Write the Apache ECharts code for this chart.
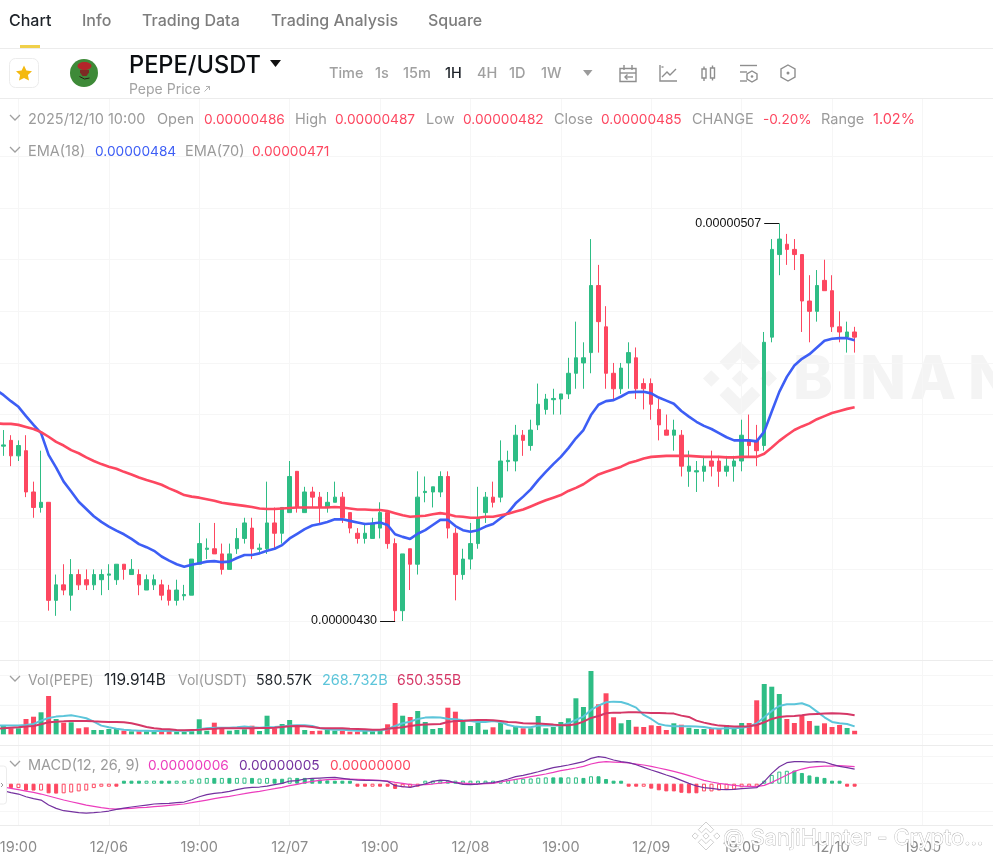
<!DOCTYPE html>
<html>
<head>
<meta charset="utf-8">
<title>PEPE/USDT</title>
<style>html,body{margin:0;padding:0;background:#fff}#chart{width:993px;height:862px}</style>
<script src="https://cdn.jsdelivr.net/npm/echarts@6/dist/echarts.min.js"></script>
</head>
<body>
<div id="chart"></div>
<script>
// Prices below are in units of 0.00000001 USDT; volumes are in billions of PEPE.
const opens = [464,465,462,463,455,452,453,434,437,435,439,438,437,438,439,438,441,439,439,436,437,437,436,434,435,435,441,444,444,443,440,444,446,448,444,444,449,447,451,459,451,455,454,452,453,454,451,447,446,446,448,451,445,432,444,441,455,455,455,458,447,439,442,445,451,454,454,461,461,466,464,468,471,473,473,474,478,480,482,495,487,478,475,480,481,476,476,471,467,466,466,459,459,459,461,461,459,460,461,465,465,464,485,501,503,502,501,492,490,496,494,487,485,486];
const highs = [467,466,465,466,457,463,453,439,441,442,440,440,440,440,441,441,441,442,440,439,439,438,437,438,437,442,449,446,449,445,445,448,450,450,445,457,452,452,461,459,456,456,455,455,457,455,451,448,449,450,453,451,446,443,444,459,458,456,459,459,448,444,449,456,455,457,465,463,468,467,469,476,474,475,474,481,488,484,504,499,491,480,480,484,483,477,477,473,470,469,467,463,461,462,463,462,462,462,469,470,468,486,504,507,505,504,501,497,498,500,497,490,488,487];
const lows = [462,460,461,454,450,451,432,431,435,432,436,436,436,435,436,437,438,439,435,436,436,434,433,433,434,435,441,442,443,439,440,443,445,442,443,443,444,445,451,451,451,452,449,451,453,449,447,445,445,446,446,444,430,430,436,439,453,452,454,446,434,438,440,444,449,452,453,459,459,462,463,467,470,470,470,473,475,475,478,482,475,473,474,475,473,471,469,465,466,463,458,456,455,457,458,456,458,457,459,462,460,463,484,497,499,498,486,484,488,494,486,484,482,482];
const closes = [464,462,464,455,452,453,434,437,436,439,437,437,439,439,439,441,440,440,437,438,438,435,434,436,435,442,445,444,443,440,443,446,449,444,444,449,447,452,458,452,455,454,452,453,454,450,448,446,447,449,451,445,432,443,441,454,455,456,458,448,439,442,445,450,454,453,461,461,466,465,467,472,473,473,474,478,481,481,495,488,478,475,479,482,475,475,472,468,466,467,460,460,459,460,460,459,460,461,466,464,463,484,502,504,502,501,492,490,495,494,487,486,486,485];

// The averages start one bar earlier than the candles, just past the left edge.
const ema18 = [474.8,473.8,472.6,471.5,469.7,468.0,466.4,462.2,459.7,457.0,455.1,453.1,451.7,450.3,449.2,448.3,447.5,446.8,445.9,444.9,444.3,443.6,442.5,441.7,441.0,440.5,440.9,441.2,441.5,441.6,441.4,441.5,442.2,442.8,442.8,443.1,443.6,444.0,444.7,446.0,446.9,447.8,448.5,448.8,449.2,449.7,449.7,449.4,449.1,448.8,448.9,449.1,448.6,446.8,446.3,445.9,446.9,447.6,448.6,449.6,449.6,448.4,447.6,447.3,447.6,448.3,448.8,449.9,451.0,452.8,454.1,455.5,457.3,458.9,460.4,461.8,463.5,465.4,467.0,469.9,471.9,472.6,472.8,473.5,474.3,474.4,474.4,474.1,473.3,472.7,472.1,470.7,469.6,468.6,467.8,467.2,466.4,465.6,465.0,465.0,465.0,464.8,466.7,470.6,474.4,477.3,479.5,480.8,481.7,483.0,484.3,484.7,484.8,484.8,484.4];
const ema70 = [468.3,468.2,468.2,468.0,467.6,467.2,466.6,465.7,464.7,464.0,463.1,462.5,461.7,461.0,460.4,459.9,459.5,458.9,458.4,457.8,457.3,456.9,456.4,455.7,455.1,454.4,454.1,453.9,453.6,453.3,452.9,452.7,452.5,452.3,452.1,451.8,451.7,451.7,451.8,451.9,452.0,452.0,452.0,452.0,452.0,452.1,452.0,451.8,451.6,451.6,451.5,451.5,451.3,450.9,450.5,450.2,450.3,450.4,450.7,450.9,450.7,450.3,450.2,450.0,450.0,450.2,450.2,450.5,450.8,451.2,451.6,452.2,452.8,453.4,453.9,454.4,455.2,455.8,456.5,457.5,458.4,458.9,459.4,459.9,460.6,461.0,461.5,461.8,461.9,462.0,462.0,462.0,462.0,461.9,461.8,461.8,461.8,461.7,461.7,461.8,461.8,461.8,462.4,463.6,464.9,466.0,467.0,467.7,468.3,469.1,469.7,470.3,470.7,471.1,471.4];

const volumes = [293,205,205,522,600,750,1306,522,396,409,205,239,147,147,181,181,123,102,102,102,89,113,147,89,78,102,512,123,396,205,123,147,171,293,113,634,205,351,488,259,147,113,123,147,123,123,89,89,113,102,113,341,1067,634,590,795,419,181,215,907,771,488,283,396,157,239,396,157,249,205,205,624,205,249,419,546,1228,931,2158,1023,1398,580,375,488,259,249,307,283,147,375,327,225,181,181,215,181,317,181,385,385,1159,1715,1623,1374,522,385,624,453,293,375,249,317,215,119.914];
const volShort = [296,296,296,296,318,352,466,557,603,625,648,603,546,432,296,239,193,159,136,125,125,114,114,125,125,125,125,171,205,227,227,227,239,262,239,227,239,250,262,296,307,307,284,205,171,159,159,136,125,125,125,136,171,284,375,432,523,569,580,569,534,512,478,455,421,421,455,421,318,262,239,239,296,296,296,296,375,489,603,830,978,1092,1114,1103,1023,910,659,523,352,296,273,273,273,262,250,205,193,205,205,227,262,375,580,796,966,1023,1023,1057,966,773,580,421,375,352,268.732];
const volLong = [193,205,227,239,262,284,341,409,432,443,455,455,455,443,432,421,421,409,375,318,250,205,182,171,148,136,148,159,182,193,205,205,205,205,205,216,216,227,250,273,284,273,250,216,205,205,205,193,182,171,159,159,193,216,239,284,318,330,341,352,421,455,455,478,489,489,478,455,421,409,375,364,364,352,330,307,307,341,432,557,625,716,739,739,750,750,739,728,728,716,705,637,591,466,398,341,296,284,262,262,273,318,409,523,591,614,625,648,682,694,705,716,705,694,650.355];

const macdHist = [-1.5,-1.6,-1.6,-2.5,-2.5,-2.5,-3.5,-3.6,-3.5,-3.2,-2.8,-2.5,-1.6,-1.1,-0.7,-0.5,0.6,0.7,0.7,0.8,1.0,0.8,0.8,0.8,1.0,1.5,1.9,2.1,2.1,2.1,2.1,2.1,2.2,2.1,1.9,2.1,1.8,1.8,2.2,2.1,2.1,1.8,1.5,1.2,1.0,0.8,0.5,-0.5,-0.5,-0.6,-0.6,-0.7,-1.9,-1.3,-1.3,-0.7,0.5,0.6,0.6,0.6,0.6,0.6,0.5,0.5,0.7,0.6,1.0,1.3,1.7,1.8,1.9,2.2,2.3,2.3,2.3,2.3,2.3,2.1,2.7,2.7,1.7,0.7,0.4,-0.5,-0.6,-1.1,-1.8,-2.4,-2.8,-2.8,-3.3,-3.5,-3.5,-2.8,-2.8,-2.5,-2.1,-2.1,-1.3,-1.1,-1.1,1.1,3.2,4.4,4.7,4.8,3.9,3.0,2.5,2.1,1.1,0.5,-0.6,-0.4];
// Bars drawn as outlines rather than filled.
const macdHollow = [2,5,8,9,10,11,12,13,14,19,20,23,24,25,26,27,29,31,32,34,35,38,49,53,54,55,56,57,58,59,60,61,62,63,64,65,66,67,68,69,70,71,72,75,76,78,85,93,94,95,96,97,98,99,100,101,102,103,104];
const macdDif = [-2.55,-3.27,-3.76,-4.73,-5.45,-5.94,-7.76,-8.97,-9.82,-10.18,-10.55,-10.67,-10.55,-10.30,-9.94,-9.33,-8.85,-8.48,-8.12,-7.76,-7.39,-7.27,-7.15,-6.91,-6.67,-5.82,-4.73,-4.00,-3.52,-3.27,-2.79,-2.18,-1.58,-1.33,-1.21,-0.85,-0.36,0.12,0.97,1.09,1.70,1.94,2.06,2.18,2.30,1.94,1.58,1.33,1.21,1.21,1.09,0.85,-0.73,-1.09,-1.33,-0.73,-0.12,0.85,1.33,1.09,0.36,-0.24,-0.36,-0.12,0.24,0.36,0.97,1.70,2.55,3.03,3.64,4.36,5.09,5.82,6.30,6.79,7.39,8.00,9.21,9.82,9.45,8.61,8.00,7.64,6.91,5.94,4.97,4.12,3.15,2.30,1.21,0.12,-0.85,-1.45,-1.70,-2.06,-2.18,-2.06,-1.82,-1.58,-1.45,0.73,3.76,6.18,7.64,8.00,8.00,7.88,8.00,7.88,7.03,6.30,5.82,5.33];
const macdDea = [-1.21,-1.70,-2.18,-2.67,-3.15,-3.76,-4.48,-5.21,-5.94,-6.55,-7.15,-7.76,-8.24,-8.73,-9.09,-9.21,-9.09,-8.97,-8.73,-8.61,-8.36,-8.12,-7.88,-7.64,-7.39,-6.91,-6.42,-5.94,-5.45,-4.97,-4.61,-4.12,-3.64,-3.15,-2.79,-2.30,-1.82,-1.33,-0.73,-0.24,0.36,0.85,1.21,1.45,1.58,1.70,1.70,1.58,1.45,1.33,1.21,0.97,0.48,0.12,-0.36,-0.48,-0.36,-0.12,0.24,0.48,0.48,0.24,0,-0.12,0,0.12,0.61,1.09,1.58,2.06,2.55,3.03,3.52,4.12,4.73,5.21,5.70,6.30,7.15,7.76,8.00,7.88,7.76,7.52,7.15,6.79,6.30,5.70,5.09,4.48,3.76,2.91,2.06,1.21,0.61,0.12,-0.24,-0.61,-0.85,-0.97,-1.09,-0.61,0.48,1.82,3.15,4.48,5.33,5.94,6.18,6.42,6.42,6.55,6.42,6.18];

// Candle positions of the time axis labels.
const tickPositions = [2,14,26,38,50,62,74,86,98,110,122];
const tickLabels = ['19:00','12/06','19:00','12/07','19:00','12/08','19:00','12/09','19:00','12/10','19:00'];

const highMarkIndex = 103, lowMarkIndex = 52;
const tabs = [['Chart',9],['Info',82],['Trading Data',142],['Trading Analysis',271],['Square',428]];
const intervals = [['Time',329],['1s',375],['15m',403],['1H',445],['4H',477],['1D',509],['1W',541]];

const UP = '#2ebd85', DOWN = '#fd4760', BLUE = '#3d5ef5', GREY = '#9b9b9b', INK = '#1e2329';
const CYAN = '#5cc5da', CRIMSON = '#d53766', PURPLE = '#74319f', PINK = '#ec3dbd';
const FONT = 'Inter';
const LEGEND_SIZE = 14.5, PRICE_SIZE = 13.7;
const priceText = v => (v / 1e8).toFixed(8);

const legendRows = [
  [118, [['2025/12/10 10:00',28,GREY],['Open',157,GREY],[priceText(opens[113]),204,DOWN,PRICE_SIZE],['High',295,GREY],[priceText(highs[113]),335,DOWN,PRICE_SIZE],['Low',426,GREY],[priceText(lows[113]),463,DOWN,PRICE_SIZE],['Close',554,GREY],[priceText(closes[113]),601,DOWN,PRICE_SIZE],['CHANGE',692,GREY],['-0.20%',763,DOWN,13.6],['Range',821,GREY],['1.02%',873,DOWN]]],
  [150, [['EMA(18)',28,GREY],[priceText(484),95,BLUE,PRICE_SIZE],['EMA(70)',185,GREY],[priceText(471),252,DOWN,PRICE_SIZE]]],
  [679, [['Vol(PEPE)',28,GREY,14],['119.914B',104,INK,15.4],['Vol(USDT)',178,GREY,14],['580.57K',256,INK,14.2],['268.732B',322,CYAN],['650.355B',397,CRIMSON,14]]],
  [764, [['MACD(12, 26, 9)',28,GREY],[priceText(6),148,PINK,PRICE_SIZE],[priceText(5),239,PURPLE,PRICE_SIZE],[priceText(0),330,DOWN,PRICE_SIZE]]]
];

// One band per hour, with a spare band before the first candle and room on the right.
const BAND = 7.533, FIRST_X = 3.4, BANDS = 133;
const bandLeft = FIRST_X - 1.5 * BAND;
const categories = Array.from({length: BANDS}, (_, i) => {
  const t = tickPositions.indexOf(i - 1);
  return t >= 0 ? tickLabels[t] : '';
});

const candles = [['-','-','-','-']].concat(opens.map((o, i) => {
  // A flat open/close still gets a visible sliver of body.
  const pad = o === closes[i] ? 0.12 : 0;
  return [o - pad, closes[i] + pad, lows[i], highs[i]];
}));
const isUp = i => closes[i] >= opens[i];
const volumeBars = ['-'].concat(volumes.map((v, i) => ({value: v, itemStyle: {color: isUp(i) ? UP : DOWN}})));
const macdBars = ['-'].concat(macdHist.map((v, i) => {
  const c = v >= 0 ? UP : DOWN;
  return {value: v, itemStyle: macdHollow.includes(i)
    ? {color: '#fff', borderColor: c, borderWidth: 1}
    : {color: c, borderColor: c, borderWidth: 1}};
}));
const lead = arr => [arr[0]].concat(arr);

const gridBase = {left: bandLeft, width: BANDS * BAND, outerBoundsMode: 'none'};
const hiddenX = gridIndex => ({type: 'category', gridIndex, data: categories, show: false});
const thinLine = (name, data, color, width, xi, yi) => ({
  name, type: 'line', data, xAxisIndex: xi, yAxisIndex: yi, symbol: 'none', silent: true,
  lineStyle: {color, width}, z: 5
});

// ---- page furniture drawn around the plot ----
const g = [];
// Inter sits a little high when centred, so the optical middle is nudged down.
const text = (t, x, y, fill, size, weight) => g.push({
  type: 'text', z: 20,
  style: {text: t, x, y: y + 1.5, fill, fontSize: size, fontFamily: FONT, fontWeight: weight || 400, align: 'left', verticalAlign: 'middle'}
});
// Small outline language for the glyphs: M/L absolute, l/h/v relative, Z closes.
function subpaths(d) {
  const out = [];
  let cur = null, x = 0, y = 0;
  d.replace(/([MLlhvZ])([^MLlhvZ]*)/g, (_, cmd, args) => {
    const n = (args.match(/-?\d*\.?\d+/g) || []).map(Number);
    if (cmd === 'M') { x = n[0]; y = n[1]; cur = {points: [[x, y]], closed: false}; out.push(cur); }
    else if (cmd === 'L') { x = n[0]; y = n[1]; cur.points.push([x, y]); }
    else if (cmd === 'l') { x += n[0]; y += n[1]; cur.points.push([x, y]); }
    else if (cmd === 'h') { x += n[0]; cur.points.push([x, y]); }
    else if (cmd === 'v') { y += n[0]; cur.points.push([x, y]); }
    else if (cmd === 'Z') { cur.closed = true; }
    return '';
  });
  return out;
}
const stroke = (d, color, w, z) => subpaths(d).forEach(p => g.push({
  type: p.closed ? 'polygon' : 'polyline', z: z || 20, shape: {points: p.points},
  style: {fill: p.closed ? '#fff' : null, stroke: color, lineWidth: w || 1.4}
}));
const solid = (d, color, z) => subpaths(d).forEach(p => g.push({
  type: 'polygon', z: z || 20, shape: {points: p.points}, style: {fill: color}
}));
const hairline = y => g.push({type: 'rect', z: 19, shape: {x: 0, y, width: 993, height: 1}, style: {fill: '#ececec'}});

function diamondLogo(cx, cy, s, style, z) {
  const shapes = [
    [[0,-.225],[.225,0],[0,.225],[-.225,0]],
    [[-.775,-.225],[-.55,0],[-.775,.225],[-1,0]],
    [[.775,-.225],[1,0],[.775,.225],[.55,0]],
    [[0,-1],[.55,-.45],[.325,-.225],[0,-.55],[-.325,-.225],[-.55,-.45]],
    [[0,1],[-.55,.45],[-.325,.225],[0,.55],[.325,.225],[.55,.45]]
  ];
  shapes.forEach(p => g.push({type: 'polygon', z, shape: {points: p.map(q => [cx + q[0] * s, cy + q[1] * s])}, style}));
}

// Faint exchange mark behind the candles.
diamondLogo(740, 378.5, 37, {fill: '#f4f4f4'}, -1);
[['B',793],['I',841],['N',860],['A',910],['N',968]].forEach(l => g.push({
  type: 'text', z: -1,
  style: {text: l[0], x: l[1], y: 381, fill: '#f4f4f4', fontSize: 60, fontFamily: FONT, fontWeight: 800, align: 'left', verticalAlign: 'middle'}
}));

[48, 98, 660, 745, 825].forEach(hairline);
tabs.forEach((t, i) => text(t[0], t[1], 20, i === 0 ? INK : '#7d7d7d', 16, 500));
g.push({type: 'rect', z: 20, shape: {x: 20, y: 45, width: 20, height: 3}, style: {fill: '#f0d04a'}});

// Favourite button, coin badge and pair selector.
g.push({type: 'rect', z: 20, shape: {x: 9.5, y: 58.5, width: 29, height: 29, r: 6}, style: {fill: '#fff', stroke: '#ececec'}});
solid('M24 65.5L26.4 70.6L32 71.3L27.9 75.1L29 80.6L24 77.9L19 80.6L20.1 75.1L16 71.3L21.6 70.6Z', '#f4b90f', 21);
g.push({type: 'circle', z: 20, shape: {cx: 84, cy: 73, r: 14}, style: {fill: '#3e8a38'}});
g.push({type: 'ellipse', z: 21, shape: {cx: 84.5, cy: 66, rx: 7, ry: 4}, style: {fill: '#b3262a'}});
solid('M80 70h9v2.5l-2.5 3.5h-4l-2.5-3.5Z', '#7e2a24', 21);
stroke('M79.5 76.5l5 2.5l5-1', '#2a1c16', 1, 21);
text('PEPE/USDT', 129, 64, '#0b0e11', 23.6, 500);
solid('M270 60h11l-5.5 7Z', '#111');
text('Pepe Price', 129, 88, '#a3a3a3', 14, 400);
stroke('M204.5 91.5l5-5M206 86.5h3.5v3.5', '#a8a8a8', 0.9);
intervals.forEach(t => text(t[0], t[1], 72.5, t[0] === '1H' ? INK : '#a0a0a0', 14.5, 500));
solid('M583 70h9.5l-4.75 6Z', '#9b9b9b');

// Toolbar glyphs.
const ICON = '#8e8e8e';
stroke('M620 68.5h16v13h-16ZM620 73h16M624 65v5M632 65v5M633 77h-8M627.5 74.5l-2.5 2.5l2.5 2.5', ICON);
stroke('M660 65v16h17M662 77l5-5l3 3l6-6M661.5 67h2', ICON);
stroke('M702 69h4v9h-4ZM704 66.5v2.5M704 78v3M710.5 68h4v10h-4ZM712.5 65.5v2.5M712.5 78v2.5', ICON);
stroke('M740 65.5h17M740 72h7M740 81h7M752 71l5 2.8v5.4l-5 2.8l-5-2.8v-5.4Z', ICON);
g.push({type: 'circle', z: 21, shape: {cx: 752, cy: 76.5, r: 1.3}, style: {fill: ICON}});
stroke('M788 65l7 4v8l-7 4l-7-4v-8Z', ICON);
g.push({type: 'circle', z: 21, shape: {cx: 788, cy: 73, r: 1.5}, style: {fill: ICON}});

// Legend rows and their collapse chevrons.
legendRows.forEach(r => {
  stroke('M10 ' + (r[0] - 3) + 'l5 5l5-5', '#a0a0a0', 1.3);
  r[1].forEach(c => text(c[0], c[1], r[0], c[2], c[3] || LEGEND_SIZE, 400));
});

// Side tab sitting over the left edge of the MACD pane.
g.push({type: 'rect', z: 18, shape: {x: -6, y: 766, width: 12.5, height: 38, r: 3}, style: {fill: '#fff', stroke: '#ececec'}});
stroke('M1 783l2 2l-2 2', '#999', 1);

// Author's stamp across the time axis.
const stamp = {fill: '#fff', stroke: '#c4c4c4', lineWidth: 0.8};
diamondLogo(706, 836, 14, stamp, 30);
g.push({type: 'text', z: 30, style: {text: '@ SanjiHunter - Crypto…', x: 723, y: 838, fill: '#fff', stroke: '#b4b4b4', lineWidth: 0.8,
  fontSize: 22, fontFamily: FONT, fontWeight: 400, align: 'left', verticalAlign: 'middle'}});

const markText = {show: true, position: 'start', color: '#111', fontSize: 12.5, fontFamily: 'Liberation Sans', distance: 3};
// A short leader from two bars back to the extreme candle, with the price at its far end.
const extremeMark = (i, value) => [
  {coord: [i - 1, value], lineStyle: {color: '#111', width: 1, type: 'solid'}, label: Object.assign({formatter: priceText(value)}, markText)},
  {coord: [i + 1, value]}
];

const option = {
  animation: false,
  backgroundColor: '#fff',
  grid: [
    Object.assign({}, gridBase, {left: FIRST_X - BAND, width: (BANDS - 1) * BAND, top: 99, height: 726}),
    Object.assign({}, gridBase, {top: 156.5, height: 464.5}),
    Object.assign({}, gridBase, {top: 660.3, height: 74}),
    Object.assign({}, gridBase, {top: 728.7, height: 110})
  ],
  xAxis: [
    {type: 'category', gridIndex: 0, data: categories, boundaryGap: false,
      axisLine: {show: false}, axisTick: {show: false},
      axisLabel: {interval: 0, margin: 15, color: '#8c8c8c', fontSize: 14.5, fontFamily: FONT, showMinLabel: true, showMaxLabel: true},
      splitLine: {show: true, interval: i => tickPositions.includes(i - 1), lineStyle: {color: '#f6f6f6', width: 1}}},
    hiddenX(1), hiddenX(2), hiddenX(3)
  ],
  yAxis: [
    {type: 'value', gridIndex: 0, show: false, min: 0, max: 1, splitLine: {show: false}},
    {type: 'value', gridIndex: 1, min: 430, max: 520, interval: 10, scale: true,
      axisLine: {show: false}, axisTick: {show: false}, axisLabel: {show: false},
      splitLine: {lineStyle: {color: '#f6f6f6', width: 1}}},
    {type: 'value', gridIndex: 2, min: 0, max: 2523, interval: 1000,
      axisLine: {show: false}, axisTick: {show: false}, axisLabel: {show: false},
      splitLine: {lineStyle: {color: '#f6f6f6', width: 1}, showMaxLine: false}},
    {type: 'value', gridIndex: 3, min: -20, max: 20, interval: 10,
      axisLine: {show: false}, axisTick: {show: false}, axisLabel: {show: false},
      splitLine: {lineStyle: {color: '#f6f6f6', width: 1}, showMinLine: false, showMaxLine: false}}
  ],
  series: [
    {name: 'PEPE/USDT', type: 'candlestick', data: candles, xAxisIndex: 1, yAxisIndex: 1, barWidth: 4, silent: true,
      itemStyle: {color: UP, color0: DOWN, borderColor: UP, borderColor0: DOWN, borderWidth: 1},
      markLine: {silent: true, symbol: 'none', animation: false, data: [
        extremeMark(highMarkIndex, highs[highMarkIndex]),
        extremeMark(lowMarkIndex, lows[lowMarkIndex])
      ]}},
    thinLine('EMA(18)', ema18, BLUE, 2.6, 1, 1),
    thinLine('EMA(70)', ema70, DOWN, 2.6, 1, 1),
    {name: 'Vol(PEPE)', type: 'bar', data: volumeBars, xAxisIndex: 2, yAxisIndex: 2, barWidth: 5, silent: true},
    thinLine('Vol MA short', volShort, CYAN, 2, 2, 2),
    thinLine('Vol MA long', volLong, CRIMSON, 2, 2, 2),
    {name: 'MACD', type: 'bar', data: macdBars, xAxisIndex: 3, yAxisIndex: 3, barWidth: 4, barMinHeight: 3, silent: true},
    thinLine('DEA', lead(macdDea), PINK, 1.2, 3, 3),
    thinLine('DIF', lead(macdDif), PURPLE, 1.2, 3, 3)
  ],
  graphic: {elements: g}
};

echarts.init(document.getElementById('chart')).setOption(option);
</script>
</body>
</html>
